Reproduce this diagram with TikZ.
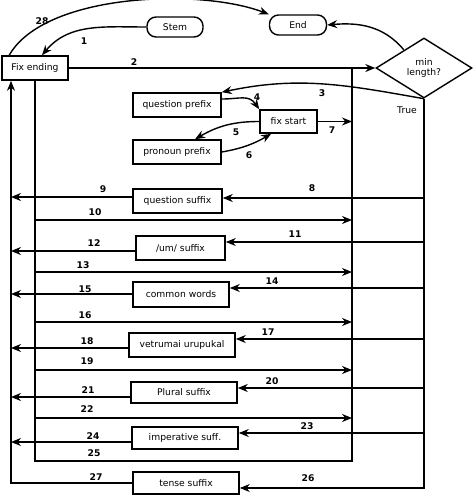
\documentclass[tikz,border=0pt]{standalone}
\usepackage{fontspec}
\setmainfont{DejaVu Sans}
\usetikzlibrary{arrows.meta,shapes.geometric}

\begin{document}
\begin{tikzpicture}
  [x=1pt,y=-1pt,line width=1.4pt,>={Stealth[length=10pt,width=8pt]},
   every node/.style={font=\fontsize{9.2}{10}\selectfont},
   box/.style={draw,rectangle,line width=1.6pt,minimum height=24pt,inner sep=2pt},
   pill/.style={draw,rectangle,rounded corners=9pt,minimum height=20pt},
   num/.style={font=\fontsize{9.2}{10}\selectfont\bfseries}]
  \useasboundingbox (0,0) rectangle (474,496);

  \node[pill,minimum width=56pt] (stem) at (175,27) {Stem};
  \node[pill,minimum width=57pt] (done) at (298,25) {End};
  \node[box,minimum width=66pt] (fixend) at (35,68) {Fix ending};
  \node[draw,diamond,aspect=1.6,inner sep=0pt,minimum width=96pt,
        minimum height=60pt,align=center] (minlen) at (424,68) {min\\length?};
  \node[box,minimum width=88pt] (qpre) at (177,105) {question prefix};
  \node[box,minimum width=57pt,minimum height=23pt] (fixst) at (288.5,121.5) {fix start};
  \node[box,minimum width=88pt] (ppre) at (177,152) {pronoun prefix};
  \node[box,minimum width=89pt] (qsuf) at (177.5,201) {question suffix};
  \node[box,minimum width=89pt] (umsuf) at (180.5,248) {/um/ suffix};
  \node[box,minimum width=96pt,minimum height=25pt] (common) at (181,294.5) {common words};
  \node[box,minimum width=106pt] (vetr) at (182,345) {vetrumai urupukal};
  \node[box,minimum width=106pt,minimum height=21pt] (plural) at (184,392.5) {Plural suffix};
  \node[box,minimum width=106pt,minimum height=22pt] (imper) at (185,438) {imperative suff.};
  \node[box,minimum width=106pt,minimum height=22pt] (tense) at (186,483) {tense suffix};

  % free ends on the four long lines
  \coordinate (r8) at (424,198);
  \coordinate (w9) at (11,197);
  \coordinate (e10) at (352,220);
  \coordinate (r11) at (424,242);
  \coordinate (w12) at (11,251);
  \coordinate (e13) at (352,272);
  \coordinate (r14) at (424,288);
  \coordinate (w15) at (11,294);
  \coordinate (e16) at (352,322);
  \coordinate (r17) at (424,339);
  \coordinate (w18) at (11,348);
  \coordinate (e19) at (352,370);
  \coordinate (r20) at (424,388);
  \coordinate (w21) at (11,397);
  \coordinate (e22) at (352,418);
  \coordinate (r23) at (424,433);
  \coordinate (w24) at (11,442);
  \coordinate (ibot) at (352,461);
  \coordinate (w27) at (11,483);

  \draw[->] (stem.west) to[out=180,in=50] ([xshift=7pt]fixend.north);
  \draw[->] ([xshift=8pt]fixend.north west) .. controls (45,-7) and (200,-12) .. (done.north west);
  \draw[->] (fixend.east) -- (minlen.west);
  \draw[->] ([shift={(4pt,3pt)}]minlen.north west) to[out=130,in=5] (done.east);
  \draw[->] (minlen.south) to[out=170,in=12] (qpre.north east);
  \draw[->] ([yshift=6pt]qpre.east) to[out=0,in=125,looseness=1.2] (fixst.north west);
  \draw[->] (fixst.west) to[out=180,in=30] ([xshift=18pt]ppre.north);
  \draw[->] (ppre.east) to[out=10,in=210] ([xshift=12pt]fixst.south west);
  \draw[->] (fixst.east) -- (fixst.east -| e10);

  % inner loop
  \draw (fixend.south) |- (ibot) -- (ibot |- fixend.east);
  % outer loop
  \draw[->] (minlen.south) |- ([yshift=-5pt]tense.east);
  \draw[->] (tense.west) -- (w27) -- (w27 |- fixend.south);

  \draw[->] (r8) -- (qsuf.east |- r8);
  \draw[->] (qsuf.west |- w9) -- (w9);
  \draw[->] (fixend.south |- e10) -- (e10);
  \draw[->] (r11) -- (umsuf.east |- r11);
  \draw[->] (umsuf.west |- w12) -- (w12);
  \draw[->] (fixend.south |- e13) -- (e13);
  \draw[->] (r14) -- (common.east |- r14);
  \draw[->] (common.west |- w15) -- (w15);
  \draw[->] (fixend.south |- e16) -- (e16);
  \draw[->] (r17) -- (vetr.east |- r17);
  \draw[->] (vetr.west |- w18) -- (w18);
  \draw[->] (fixend.south |- e19) -- (e19);
  \draw[->] (r20) -- (plural.east |- r20);
  \draw[->] (plural.west |- w21) -- (w21);
  \draw[->] (fixend.south |- e22) -- (e22);
  \draw[->] (r23) -- (imper.east |- r23);
  \draw[->] (imper.west |- w24) -- (w24);

  \node[num] (lab1) at (84,41) {1};
  \node[num] (lab2) at (134,62) {2};
  \node[num] (lab3) at (322,93) {3};
  \node[num] (lab4) at (257,97) {4};
  \node[num] (lab5) at (236,132) {5};
  \node[num] (lab6) at (249,155) {6};
  \node[num] (lab7) at (332,130) {7};
  \node[num] (lab8) at (312,188) {8};
  \node[num] (lab9) at (103,189) {9};
  \node[num] (lab10) at (95,212) {10};
  \node[num] (lab11) at (295,234) {11};
  \node[num] (lab12) at (94,243) {12};
  \node[num] (lab13) at (83,265) {13};
  \node[num] (lab14) at (272,281) {14};
  \node[num] (lab15) at (85,289) {15};
  \node[num] (lab16) at (85,315) {16};
  \node[num] (lab17) at (268,332) {17};
  \node[num] (lab18) at (87,341) {18};
  \node[num] (lab19) at (87,361) {19};
  \node[num] (lab20) at (272,381) {20};
  \node[num] (lab21) at (88,390) {21};
  \node[num] (lab22) at (87,409) {22};
  \node[num] (lab23) at (307,426) {23};
  \node[num] (lab24) at (93,436) {24};
  \node[num] (lab25) at (94,453) {25};
  \node[num] (lab26) at (308,478) {26};
  \node[num] (lab27) at (96,477) {27};
  \node[num] (lab28) at (42,21) {28};
  \node (ltrue) at (407,110) {True};
\end{tikzpicture}
\end{document}
